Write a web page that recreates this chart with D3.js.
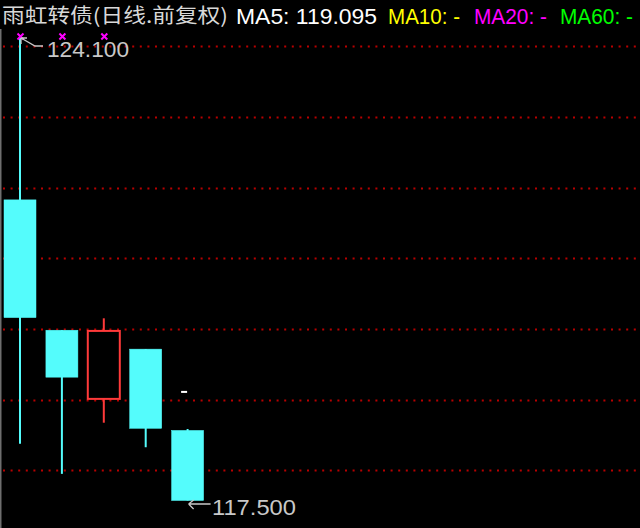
<!DOCTYPE html>
<html><head><meta charset="utf-8">
<script src="https://cdn.jsdelivr.net/npm/d3@7"></script>
<style>html,body{margin:0;padding:0;background:#000;overflow:hidden}</style>
</head><body>
<svg id="c" width="640" height="528"></svg>
<script>
const categories = ["1","2","3","4","5"];
const opens  = [121.79, 119.93, 118.95, 119.66, 118.50];
const highs  = [124.10, 119.93, 120.10, 119.66, 118.52];
const lows   = [118.31, 117.88, 118.61, 118.26, 117.50];
const closes = [120.11, 119.26, 119.92, 118.53, 117.50];
const gridValues = [123.98, 122.97, 121.96, 120.96, 119.95, 118.94, 117.94];
const markerIdx = [0, 1, 2];
const titleText = "雨虹转债(日线.前复权)";
const maLabels = ["MA5: 119.095", "MA10: -", "MA20: -", "MA60: -"];
const maColors = ["#ffffff", "#ffff00", "#ff00ff", "#00ff00"];
const highLabel = "124.100";
const lowLabel = "117.500";

const svg = d3.select("#c");
svg.append("rect").attr("width",640).attr("height",528).attr("fill","#000");

const y = d3.scaleLinear().domain([117.5, 124.1]).range([500.5, 38]);
const x = d3.scaleLinear().domain([0, categories.length-1]).range([20, 187.6]);
const bodyW = 32;

// left border
svg.append("line").attr("x1",0.75).attr("x2",0.75).attr("y1",29).attr("y2",528)
  .attr("stroke","#6e6e6e").attr("stroke-width",1.5);

// grid
svg.append("g").selectAll("line").data(gridValues).join("line")
  .attr("x1",3).attr("x2",640)
  .attr("y1",d=>Math.round(y(d))+0.5).attr("y2",d=>Math.round(y(d))+0.5)
  .attr("stroke","#b80000").attr("stroke-width",2).attr("stroke-dasharray","2,5.6");

const data = categories.map((c,i)=>({c,i,o:opens[i],h:highs[i],l:lows[i],cl:closes[i]}));
const up = d=>d.cl>=d.o;
const cyan = "#54fcfc", red = "#ff3a3a";

const g = svg.append("g");
g.selectAll("line.w").data(data).join("line")
  .attr("x1",d=>x(d.i)).attr("x2",d=>x(d.i))
  .attr("y1",d=>y(d.h)).attr("y2",d=>y(d.l))
  .attr("stroke",d=>up(d)?red:cyan).attr("stroke-width",2);
g.selectAll("rect.b").data(data).join("rect")
  .attr("x",d=>x(d.i)-bodyW/2).attr("width",bodyW)
  .attr("y",d=>y(Math.max(d.o,d.cl))).attr("height",d=>Math.max(1,y(Math.min(d.o,d.cl))-y(Math.max(d.o,d.cl))))
  .attr("fill",d=>up(d)?"#000":cyan)
  .attr("stroke",d=>up(d)?red:cyan).attr("stroke-width",d=>up(d)?2:0.5);

// MA5 point (mean of the five closes)
const ma5 = d3.mean(closes);
svg.append("rect").attr("x",x(4)-6.5).attr("y",y(ma5)).attr("width",6).attr("height",2).attr("fill","#ffffff");

// magenta markers
svg.append("g").selectAll("path").data(markerIdx).join("path")
  .attr("d",i=>{const cx=x(i)+0.5, cy=36.5; return `M${cx-3},${cy-3}L${cx+3},${cy+3}M${cx-3},${cy+3}L${cx+3},${cy-3}`;})
  .attr("stroke","#ff00ff").attr("stroke-width",2).attr("fill","none");

// high label with arrow
const hx = x(0)+1, hy = y(highs[0]);
svg.append("path").attr("d",`M${hx},${hy}L${hx+6},${hy}M${hx},${hy}L${hx},${hy+6}M${hx},${hy}L${hx+14},${hy+8}L${hx+22},${hy+8}`)
  .attr("stroke","#c8c8c8").attr("stroke-width",1.3).attr("fill","none");
svg.append("text").attr("x",47).attr("y",56.5).attr("fill","#c8c8c8")
  .attr("font-family","Liberation Sans, Arial, sans-serif").attr("font-size",22)
  .attr("textLength",82).attr("lengthAdjust","spacingAndGlyphs").text(highLabel);

// low label with arrow
const lx = x(4)+1, ly = y(lows[4])+3.5;
svg.append("path").attr("d",`M${lx},${ly}L${lx+22},${ly}M${lx},${ly}L${lx+5},${ly-4}M${lx},${ly}L${lx+5},${ly+5}`)
  .attr("stroke","#c8c8c8").attr("stroke-width",1.3).attr("fill","none");
svg.append("text").attr("x",212).attr("y",515).attr("fill","#c8c8c8")
  .attr("font-family","Liberation Sans, Arial, sans-serif").attr("font-size",22)
  .attr("textLength",84).attr("lengthAdjust","spacingAndGlyphs").text(lowLabel);

// title
svg.append("text").attr("x",2).attr("y",23).attr("fill","#d8d8d8")
  .attr("font-family","Noto Sans CJK SC, sans-serif").attr("font-size",20)
  .attr("textLength",226).attr("lengthAdjust","spacingAndGlyphs").text(titleText);
const maX = [236, 388, 474, 560], maW = [141, 72, 73, 73];
svg.append("g").selectAll("text").data(maLabels).join("text")
  .attr("x",(d,i)=>maX[i]).attr("y",24).attr("fill",(d,i)=>maColors[i])
  .attr("font-family","Liberation Sans, Arial, sans-serif").attr("font-size",22)
  .attr("textLength",(d,i)=>maW[i]).attr("lengthAdjust","spacingAndGlyphs").text(d=>d);
</script>
</body></html>
